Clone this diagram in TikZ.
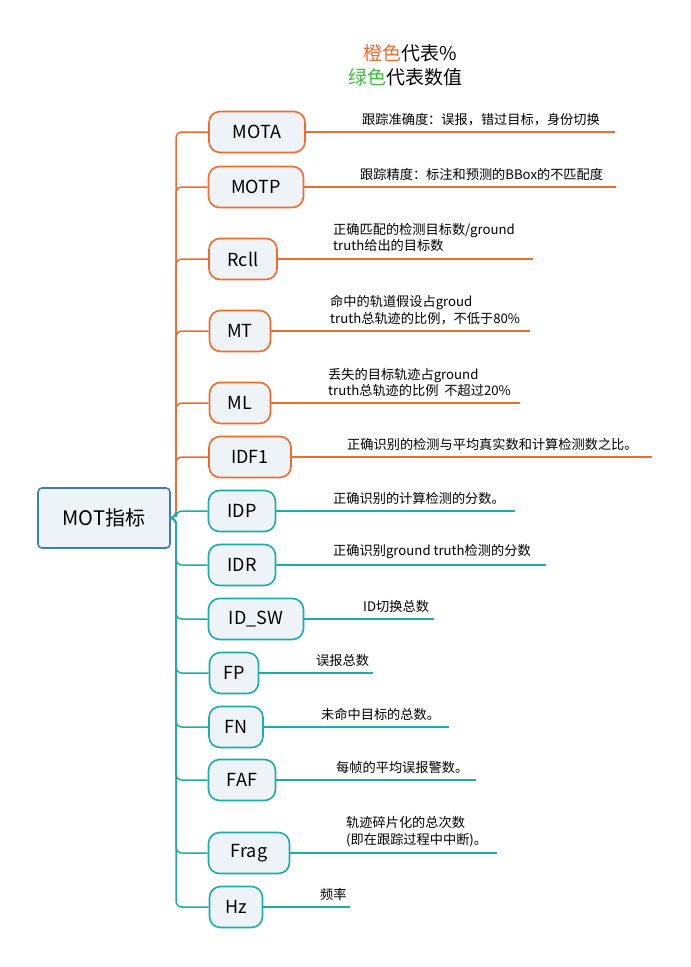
\documentclass[tikz,border=0pt]{standalone}
\usepackage{fontspec}
\setmainfont{Noto Sans CJK SC}
\definecolor{org}{HTML}{F26B2A}
\definecolor{tea}{HTML}{1AAEA6}
\definecolor{grn}{HTML}{3DBE3D}
\definecolor{rootb}{HTML}{3A7DBF}
\definecolor{nfill}{HTML}{EEF3F8}
\begin{document}
\begin{tikzpicture}[x=1pt,y=-1pt,
  child/.style={draw,line width=1.6pt,rounded corners=11pt,fill=nfill,font=\fontsize{18}{20}\selectfont,inner sep=0pt,minimum height=41pt},
  oc/.style={child,draw=org},
  tc/.style={child,draw=tea},
  lab/.style={anchor=south west,font=\fontsize{13.2}{16.5}\selectfont,align=left,inner sep=0pt},
  ol/.style={draw=org,line width=1.5pt},
  tl/.style={draw=tea,line width=1.5pt},
  br/.style={line width=1.5pt,rounded corners=6pt}]
\useasboundingbox (0,0) rectangle (691,967);
\node[draw=rootb,line width=1.6pt,rounded corners=4pt,fill=nfill,minimum width=132pt,minimum height=60pt,font=\fontsize{20}{22}\selectfont] (root) at (104,518) {MOT指标};
\node[font=\fontsize{19}{21}\selectfont] (leg1) at (410,53) {\textcolor{org}{橙色}代表\%};
\node[font=\fontsize{19}{21}\selectfont] (leg2) at (405,77) {\textcolor{grn}{绿色}代表数值};
\node[oc,minimum width=96pt] (mota) at (257,132) {MOTA};
\node[oc,minimum width=95pt] (motp) at (256,187) {MOTP};
\node[oc,minimum width=68pt] (rcll) at (243,259) {Rcll};
\node[oc,minimum width=61pt] (mt) at (240,331) {MT};
\node[oc,minimum width=61pt] (ml) at (240,403) {ML};
\node[oc,minimum width=82pt] (idf) at (250,457) {IDF1};
\node[tc,minimum width=67pt] (idp) at (242,511) {IDP};
\node[tc,minimum width=67pt] (idr) at (242,565) {IDR};
\node[tc,minimum width=95pt] (idsw) at (256,619) {ID\_SW};
\node[tc,minimum width=49pt] (fp) at (234,673) {FP};
\node[tc,minimum width=54pt] (fn) at (236,727) {FN};
\node[tc,minimum width=67pt] (faf) at (242,780) {FAF};
\node[tc,minimum width=81pt] (frag) at (249,853) {Frag};
\node[tc,minimum width=53pt] (hz) at (236,907) {Hz};
\foreach \n in {mota,motp,rcll,mt,ml,idf}
  \draw[br,org] (root.east) -- (176,518) |- (\n.west);
\foreach \n in {idp,idr,idsw,fp,fn,faf,frag,hz}
  \draw[br,tea] (root.east) -- (176,518) |- (\n.west);
\node[lab] (l1) at (362,126) {跟踪准确度：误报，错过目标，身份切换};
\draw[ol] (mota.east) -- (615,132);
\node[lab] (l2) at (360,181) {跟踪精度：标注和预测的BBox的不匹配度};
\draw[ol] (motp.east) -- (616,187);
\node[lab] (l3) at (333,252) {正确匹配的检测目标数/ground\\truth给出的目标数};
\draw[ol] (rcll.east) -- (533,259);
\node[lab] (l4) at (330,325) {命中的轨道假设占groud\\truth总轨迹的比例，不低于80\%};
\draw[ol] (mt.east) -- (530,331);
\node[lab] (l5) at (328,397) {丢失的目标轨迹占ground\\truth总轨迹的比例~~不超过20\%};
\draw[ol] (ml.east) -- (520,403);
\node[lab] (l6) at (347,451) {正确识别的检测与平均真实数和计算检测数之比。};
\draw[ol] (idf.east) -- (652,457);
\node[lab] (l7) at (333,505) {正确识别的计算检测的分数。};
\draw[tl] (idp.east) -- (515,511);
\node[lab] (l8) at (333,559) {正确识别ground truth检测的分数};
\draw[tl] (idr.east) -- (546,565);
\node[lab] (l9) at (363,613) {ID切换总数};
\draw[tl] (idsw.east) -- (434,619);
\node[lab] (l10) at (316,667) {误报总数};
\draw[tl] (fp.east) -- (373,673);
\node[lab] (l11) at (321,721) {未命中目标的总数。};
\draw[tl] (fn.east) -- (449,727);
\node[lab] (l12) at (336,774) {每帧的平均误报警数。};
\draw[tl] (faf.east) -- (476,780);
\node[lab] (l13) at (346,847) {轨迹碎片化的总次数\\(即在跟踪过程中中断)。};
\draw[tl] (frag.east) -- (497,853);
\node[lab] (l14) at (320,901) {频率};
\draw[tl] (hz.east) -- (350,907);
\end{tikzpicture}
\end{document}
